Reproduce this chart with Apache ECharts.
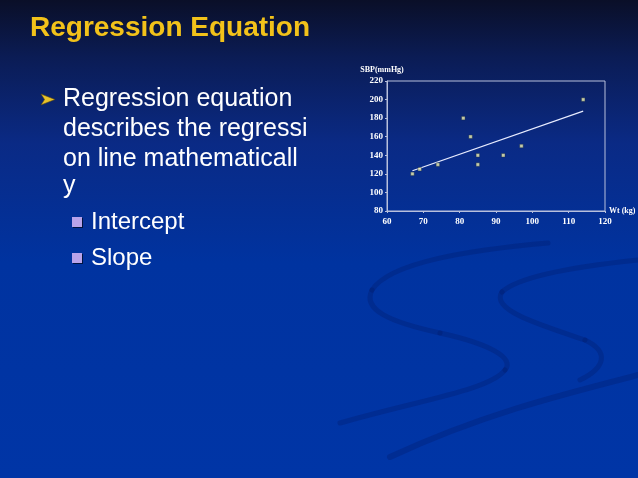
<!DOCTYPE html>
<html><head><meta charset="utf-8">
<script src="https://cdn.jsdelivr.net/npm/echarts@6/dist/echarts.min.js"></script>
<style>html,body{margin:0;padding:0;background:#0033a0;}#c{width:638px;height:478px;}</style>
</head><body><div id="c"></div>
<script>
var titleText = 'Regression Equation';
var bulletLines = ['Regression equation', 'describes the regressi', 'on line mathematicall', 'y'];
var subBullets = ['Intercept', 'Slope'];
var weights = [67, 69, 74, 81, 83, 85, 85, 92, 97, 114];
var sbp = [120, 125, 130, 180, 160, 140, 130, 140, 150, 200];
var lineX = [67, 114];
var lineY = [123.4, 187.5];
var xTicks = [60, 70, 80, 90, 100, 110, 120];
var yTicks = [80, 100, 120, 140, 160, 180, 200, 220];

var chart = echarts.init(document.getElementById('c'), null, {renderer: 'canvas'});
var pts = weights.map(function (w, i) { return [w, sbp[i]]; });
var fit = lineX.map(function (x, i) { return [x, lineY[i]]; });

var swirl = 'rgba(0,20,90,0.25)';
var swirlSegs = [
  [548,243,470,250,390,262,372,290, 5],
  [372,290,362,310,390,322,440,333, 5],
  [440,333,490,344,515,358,505,370, 5],
  [505,370,490,390,420,400,340,423, 5],
  [638,260,590,265,520,275,502,292, 5],
  [502,292,490,310,540,325,585,340, 5],
  [585,340,610,352,605,368,580,380, 5],
  [638,375,560,395,480,415,390,457, 6]
];
var graphics = [
  {type: 'rect', z: -10, silent: true, shape: {x: 0, y: 0, width: 638, height: 478},
   style: {fill: new echarts.graphic.LinearGradient(0, 0, 0, 1, [
     {offset: 0, color: '#0a0f28'}, {offset: 0.12, color: '#0b1c55'},
     {offset: 0.3, color: '#0a2a85'}, {offset: 0.55, color: '#0033a0'}, {offset: 1, color: '#0035a6'}])}}
];
swirlSegs.forEach(function (s) {
  graphics.push({type: 'bezierCurve', z: -9, silent: true,
    shape: {x1: s[0], y1: s[1], cpx1: s[2], cpy1: s[3], cpx2: s[4], cpy2: s[5], x2: s[6], y2: s[7]},
    style: {fill: 'none', stroke: swirl, lineWidth: s[8], lineCap: 'round'}});
});
graphics.push(
  {type: 'text', x: 30, y: 28, style: {text: titleText, fill: '#f2c21a', font: 'bold 28px "Liberation Sans", Arial, sans-serif',
   verticalAlign: 'middle', shadowColor: 'rgba(0,0,0,0.8)', shadowOffsetX: 2, shadowOffsetY: 2, shadowBlur: 1}},
  {type: 'polygon', shape: {points: [[41, 94], [55, 99.5], [41, 105], [44.5, 99.5]]},
   style: {fill: '#e8c22a', stroke: '#5a4a10', lineWidth: 0.6}}
);
var lineMid = [99, 129, 159, 186];
bulletLines.forEach(function (t, i) {
  graphics.push({type: 'text', x: 63, y: lineMid[i], style: {text: t, fill: '#ffffff',
    font: '25px "Liberation Sans", Arial, sans-serif', verticalAlign: 'middle',
    shadowColor: 'rgba(0,0,0,0.7)', shadowOffsetX: 1.5, shadowOffsetY: 1.5, shadowBlur: 1}});
});
var subMid = [222, 258];
subBullets.forEach(function (t, i) {
  graphics.push({type: 'rect', shape: {x: 72, y: subMid[i] - 5, width: 10, height: 10},
    style: {fill: '#b9a3ea', shadowColor: 'rgba(0,0,0,0.6)', shadowOffsetX: 1, shadowOffsetY: 1}});
  graphics.push({type: 'text', x: 91, y: subMid[i], style: {text: t, fill: '#ffffff',
    font: '24px "Liberation Sans", Arial, sans-serif', verticalAlign: 'middle',
    shadowColor: 'rgba(0,0,0,0.7)', shadowOffsetX: 1.5, shadowOffsetY: 1.5, shadowBlur: 1}});
});

var axisFont = {color: '#ffffff', fontFamily: '"Liberation Serif", "Times New Roman", serif', fontWeight: 'bold', fontSize: 9};
chart.setOption({
  animation: false,
  backgroundColor: 'transparent',
  graphic: graphics,
  grid: {left: 387, right: 33, top: 81, bottom: 267, show: true, borderColor: '#b8c0dc', borderWidth: 1, backgroundColor: 'transparent'},
  xAxis: {type: 'value', min: xTicks[0], max: xTicks[xTicks.length - 1], interval: 10,
    name: 'Wt (kg)', nameLocation: 'end', nameGap: 4,
    nameTextStyle: {color: '#ffffff', fontFamily: axisFont.fontFamily, fontWeight: 'bold', fontSize: 8, align: 'left', verticalAlign: 'middle', padding: [10, 0, 0, 0]},
    axisLine: {lineStyle: {color: '#b8c0dc', width: 1}},
    axisTick: {show: true, length: 2, lineStyle: {color: '#b8c0dc'}},
    axisLabel: Object.assign({margin: 6}, axisFont),
    splitLine: {show: false}},
  yAxis: {type: 'value', min: yTicks[0], max: yTicks[yTicks.length - 1], interval: 20,
    name: 'SBP(mmHg)', nameLocation: 'end', nameGap: 7,
    nameTextStyle: {color: '#ffffff', fontFamily: axisFont.fontFamily, fontWeight: 'bold', fontSize: 8, align: 'center', padding: [0, 10, 0, 0]},
    axisLine: {show: true, lineStyle: {color: '#b8c0dc', width: 1}},
    axisTick: {show: true, length: 2, lineStyle: {color: '#b8c0dc'}},
    axisLabel: Object.assign({margin: 4}, axisFont),
    splitLine: {show: false}},
  series: [
    {type: 'line', data: fit, symbol: 'none', lineStyle: {color: '#e8ecff', width: 1.2}, z: 2},
    {type: 'scatter', data: pts, symbol: 'rect', symbolSize: 3.5,
     itemStyle: {color: '#f4f4b0', borderColor: '#1a2a40', borderWidth: 0.5}, z: 3}
  ]
});
</script></body></html>
